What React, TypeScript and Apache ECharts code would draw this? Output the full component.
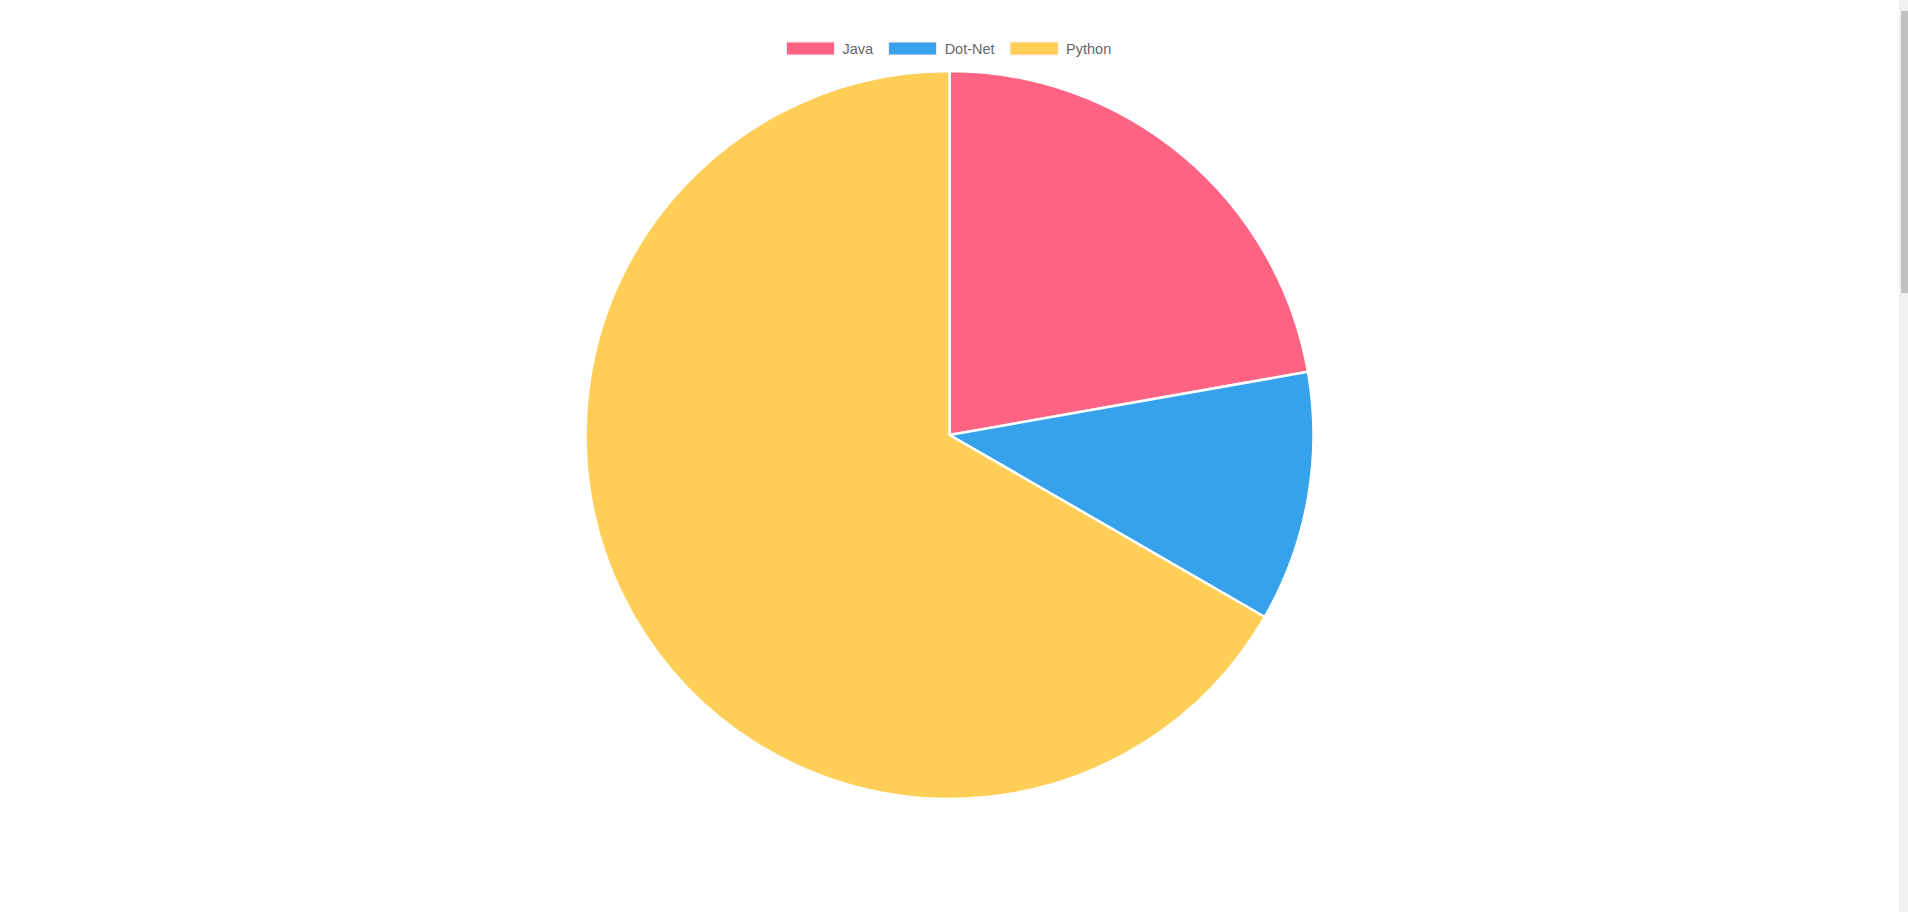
import React, { useEffect, useRef } from 'react';
import * as echarts from 'echarts';

const languages = ['Java', 'Dot-Net', 'Python'];
const shares = [20, 10, 60];
const sliceColors = ['#FF6384', '#36A2EB', '#FFCE56'];

export default function App(): JSX.Element {
    const chartRef = useRef<HTMLDivElement>(null);

    useEffect(() => {
        if (chartRef.current === null) return;
        const chart = echarts.init(chartRef.current, undefined, { renderer: 'svg' });

        const option: echarts.EChartsOption = {
            animation: false,
            color: sliceColors,
            legend: {
                data: languages,
                left: 773,
                top: 28,
                itemWidth: 48,
                itemHeight: 13,
                itemGap: 15,
                icon: 'rect',
                itemStyle: { borderColor: '#ffe8ee', borderWidth: 1 },
                textStyle: {
                    fontFamily: 'Liberation Sans',
                    fontSize: 14.5,
                    color: '#666',
                    padding: [0, 0, 0, 3],
                },
            },
            series: [
                {
                    type: 'pie',
                    center: [941.5, 427],
                    radius: 364,
                    startAngle: 90,
                    clockwise: true,
                    label: { show: false },
                    labelLine: { show: false },
                    itemStyle: { borderColor: '#fff', borderWidth: 2.5 },
                    emphasis: { disabled: true },
                    data: languages.map((name, i) => ({ name, value: shares[i] })),
                },
            ],
        };
        chart.setOption(option);

        return () => {
            chart.dispose();
        };
    }, []);

    return (
        <div>
            <div ref={chartRef} style={{ width: 1875, height: 900 }} />
            {/* page scrollbar as it shows in the reference */}
            <div style={{ position: 'fixed', top: 0, right: 0, width: 9, height: '100%', background: '#f1f1f1' }}>
                <div style={{ position: 'absolute', top: 11, right: 0, width: 7, height: 282, background: '#c1c1c1' }} />
            </div>
        </div>
    );
}
